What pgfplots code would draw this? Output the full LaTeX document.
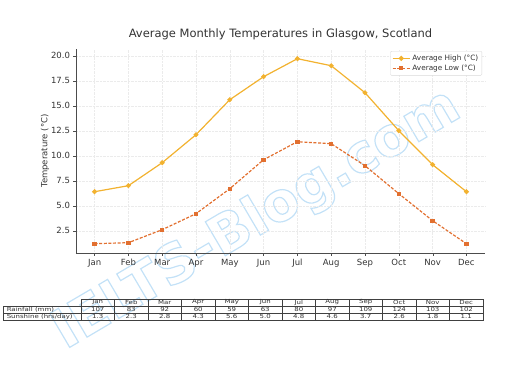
\documentclass[border=0pt]{standalone}
\usepackage{fontspec}
\setmainfont{DejaVu Sans}
\usepackage{pgfplots}
\pgfplotsset{compat=1.18}
\usepackage{graphicx}
\definecolor{hi}{RGB}{242,178,48}
\definecolor{lo}{RGB}{226,112,48}
\definecolor{wm}{RGB}{180,218,245}
\newcommand{\tabfont}{\fontsize{7.0}{8}\selectfont}
\newcommand{\tc}[1]{\scalebox{1}[0.8]{\tabfont #1}}
\begin{document}
\begin{tikzpicture}[x=1pt,y=1pt]
\useasboundingbox (0,0) rectangle (512,384);
% watermark (outlined text)
\node[rotate=30.5, text=wm, opacity=0.8, font=\fontsize{54}{60}\bfseries\selectfont] at (257,164)
  {\special{pdf:literal direct 1 Tr 1.2 w}IELTS-Blog.com\special{pdf:literal direct 0 Tr}};
\begin{axis}[at={(76pt,131pt)}, anchor=south west, scale only axis,
  width=409pt, height=204pt,
  xmin=-0.55, xmax=11.55, ymin=0.27, ymax=20.67,
  axis x line*=bottom, axis y line*=left,
  xtick={0,...,11},
  xticklabels={Jan,Feb,Mar,Apr,May,Jun,Jul,Aug,Sep,Oct,Nov,Dec},
  ytick={2.5,5,7.5,10,12.5,15,17.5,20},
  yticklabel style={/pgf/number format/fixed,/pgf/number format/fixed zerofill,/pgf/number format/precision=1},
  /pgf/number format/assume math mode=true,
  tick label style={font=\fontsize{8.5}{10}\selectfont, text=black!80},
  grid=major, major grid style={gray!16, line width=0.4pt, densely dotted},
  tick align=outside, major tick length=2.5pt,
  tick style={black!70},
  axis line style={black!70, line width=0.6pt, -},
  title={Average Monthly Temperatures in Glasgow, Scotland},
  title style={font=\fontsize{11.5}{13}\selectfont, text=black!80, at={(0.5,1)}, anchor=base, yshift=5pt},
  ylabel={Temperature (°C)},
  ylabel style={font=\fontsize{8.5}{10}\selectfont, text=black!80, at={(axis description cs:-0.076,0.5)}, anchor=center},
  legend style={at={(0.9927,0.99)}, anchor=north east, draw=gray!30, rounded corners=1pt,
    font=\fontsize{7.3}{8}\selectfont, text=black!80, inner sep=1.6pt, row sep=-1.2pt},
  legend cell align=left,
]
\addplot[hi, line width=1.2pt, mark=*, mark size=1.8pt] coordinates {
 (0,6.4) (1,7.0) (2,9.3) (3,12.1) (4,15.6) (5,17.9) (6,19.7) (7,19.0) (8,16.3) (9,12.5) (10,9.1) (11,6.4)};
\addlegendentry{Average High (°C)}
\addplot[lo, line width=1.2pt, dash pattern=on 3pt off 1.6pt, mark=square*, mark size=1.6pt, mark options={solid}] coordinates {
 (0,1.2) (1,1.3) (2,2.6) (3,4.2) (4,6.7) (5,9.6) (6,11.4) (7,11.2) (8,9.0) (9,6.2) (10,3.5) (11,1.2)};
\addlegendentry{Average Low (°C)}
\end{axis}
% table
\begin{scope}[line width=0.5pt, draw=black!75]
\foreach \m [count=\i from 0] in {Jan,Feb,Mar,Apr,May,Jun,Jul,Aug,Sep,Oct,Nov,Dec} {
  \draw ({81+33.5*\i},78) rectangle ++(33.5,7);
  \node[inner sep=0, text=black!80] at ({81+33.5*\i+16.75},81.5) {\tc{\m}};
}
\foreach \v [count=\i from 0] in {107,83,92,60,59,63,80,97,109,124,103,102} {
  \draw ({81+33.5*\i},70.7) rectangle ++(33.5,7.3);
  \node[inner sep=0, text=black!80] at ({81+33.5*\i+16.75},74.35) {\tc{\v}};
}
\foreach \v [count=\i from 0] in {1.3,2.3,2.8,4.3,5.6,5.0,4.8,4.6,3.7,2.6,1.8,1.1} {
  \draw ({81+33.5*\i},63.5) rectangle ++(33.5,7.2);
  \node[inner sep=0, text=black!80] at ({81+33.5*\i+16.75},67.1) {\tc{\v}};
}
\draw (3,70.7) rectangle (81,78);
\draw (3,63.5) rectangle (81,70.7);
\node[inner sep=0, anchor=west, text=black!80] at (6.5,74.35) {\tc{Rainfall (mm)}};
\node[inner sep=0, anchor=west, text=black!80] at (6.5,67.1) {\tc{Sunshine (hrs/day)}};
\end{scope}
\end{tikzpicture}
\end{document}
